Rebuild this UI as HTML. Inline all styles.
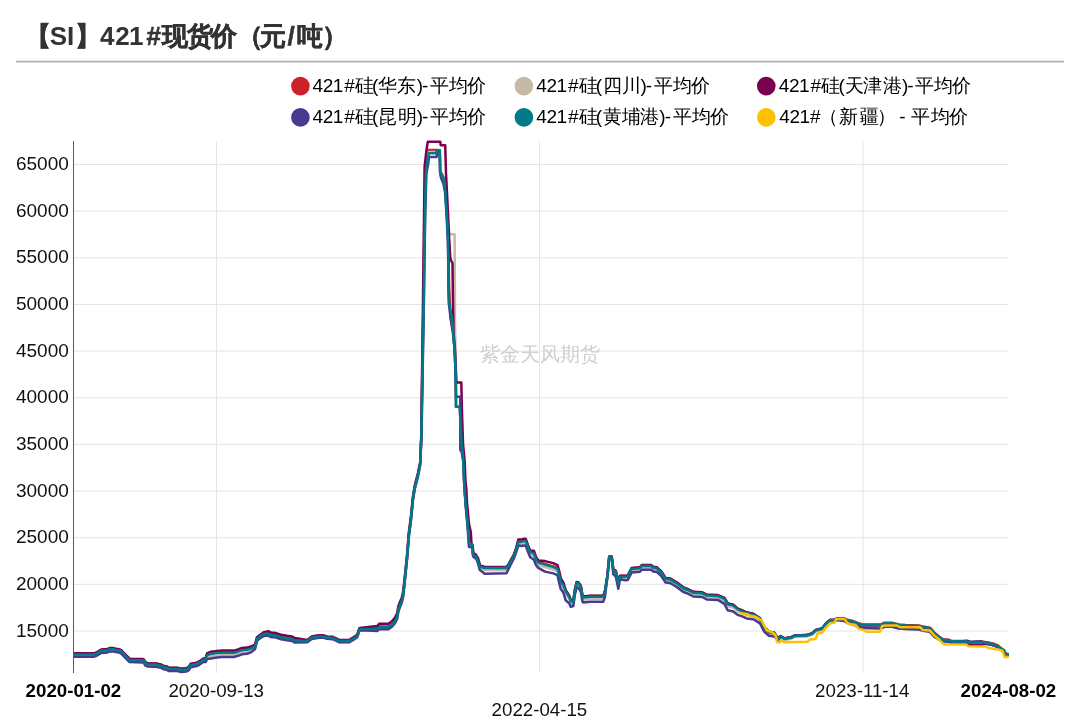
<!DOCTYPE html>
<html><head><meta charset="utf-8"><style>
html,body{margin:0;padding:0;background:#fff;width:1080px;height:720px;overflow:hidden}
svg{display:block;will-change:transform;font-family:"Liberation Sans",sans-serif}
</style></head><body>
<svg width="1080" height="720" viewBox="0 0 1080 720">
<defs><clipPath id="pc"><rect x="74" y="130" width="935" height="545"/></clipPath></defs>
<rect width="1080" height="720" fill="#fff"/>
<text x="25.40 49.75 67.05 74.55 100.00 115.20 128.95 146.50 161.70 186.85 211.15 236.75 260.25 287.40 297.40 322.00" y="45" font-size="26" font-weight="bold" fill="#333"><tspan stroke="#333" stroke-width="0.5">【</tspan>SI<tspan stroke="#333" stroke-width="0.5">】</tspan>421<tspan stroke="#333" stroke-width="0.5">#</tspan><tspan stroke="#333" stroke-width="0.5">现</tspan><tspan stroke="#333" stroke-width="0.5">货</tspan><tspan stroke="#333" stroke-width="0.5">价</tspan><tspan stroke="#333" stroke-width="0.5">（</tspan><tspan stroke="#333" stroke-width="0.5">元</tspan><tspan stroke="#333" stroke-width="0.5">/</tspan><tspan stroke="#333" stroke-width="0.5">吨</tspan><tspan stroke="#333" stroke-width="0.5">）</tspan></text>
<line x1="16" x2="1064" y1="61.7" y2="61.7" stroke="#b0b0b0" stroke-width="1.8"/>
<g font-size="19" fill="#000"><circle cx="300.4" cy="86.1" r="9.3" fill="#cc2128"/><text x="312.45 322.65 332.70 344.20 354.80 372.05 378.30 397.45 416.65 422.05 429.90 448.80 466.85" y="91.8">421#硅(华东)-平均价</text><circle cx="523.9" cy="86.1" r="9.3" fill="#c6b9a6"/><text x="536.25 546.45 556.50 568.00 578.60 595.85 602.60 621.75 640.45 645.85 653.70 672.60 690.65" y="91.8">421#硅(四川)-平均价</text><circle cx="766.3" cy="86.1" r="9.3" fill="#7a0050"/><text x="778.85 789.05 799.10 810.60 821.20 838.45 845.20 863.35 882.75 901.95 907.35 915.20 934.10 952.15" y="91.8">421#硅(天津港)-平均价</text><circle cx="300.4" cy="117.4" r="9.3" fill="#4a3990"/><text x="312.45 322.65 332.70 344.20 354.80 372.05 378.30 397.95 416.65 422.05 429.90 448.80 466.85" y="123.1">421#硅(昆明)-平均价</text><circle cx="523.9" cy="117.4" r="9.3" fill="#007a87"/><text x="536.25 546.45 556.50 568.00 578.60 595.85 602.60 621.75 640.15 659.35 664.75 672.60 691.50 709.55" y="123.1">421#硅(黄埔港)-平均价</text><circle cx="766.3" cy="117.4" r="9.3" fill="#ffc000"/><text x="779.20 789.40 799.45 810.00 819.35 838.65 859.50 876.95 899.25 911.35 930.80 948.85" y="123.1">421#（新疆）-平均价</text></g>
<g stroke="#e4e4e4" stroke-width="1"><line x1="74" x2="1008.5" y1="631.00" y2="631.00"/><line x1="74" x2="1008.5" y1="584.35" y2="584.35"/><line x1="74" x2="1008.5" y1="537.70" y2="537.70"/><line x1="74" x2="1008.5" y1="491.05" y2="491.05"/><line x1="74" x2="1008.5" y1="444.40" y2="444.40"/><line x1="74" x2="1008.5" y1="397.75" y2="397.75"/><line x1="74" x2="1008.5" y1="351.10" y2="351.10"/><line x1="74" x2="1008.5" y1="304.45" y2="304.45"/><line x1="74" x2="1008.5" y1="257.80" y2="257.80"/><line x1="74" x2="1008.5" y1="211.15" y2="211.15"/><line x1="74" x2="1008.5" y1="164.50" y2="164.50"/><line x1="216.5" x2="216.5" y1="141" y2="673"/><line x1="539.5" x2="539.5" y1="141" y2="673"/><line x1="863.0" x2="863.0" y1="141" y2="673"/></g>
<text x="540" y="360.8" font-size="20" fill="#cfcfcf" text-anchor="middle">紫金天风期货</text>
<line x1="73.5" x2="73.5" y1="141" y2="673" stroke="#5a5a5a" stroke-width="1"/>
<g font-size="19" fill="#111" text-anchor="end"><text x="68.8" y="636.6">15000</text><text x="68.8" y="589.9">20000</text><text x="68.8" y="543.3">25000</text><text x="68.8" y="496.7">30000</text><text x="68.8" y="450.0">35000</text><text x="68.8" y="403.4">40000</text><text x="68.8" y="356.7">45000</text><text x="68.8" y="310.1">50000</text><text x="68.8" y="263.4">55000</text><text x="68.8" y="216.8">60000</text><text x="68.8" y="170.1">65000</text></g>
<g font-size="18.7" fill="#111" text-anchor="middle">
<text x="73.4" y="697.4" font-weight="bold" fill="#000">2020-01-02</text>
<text x="216.2" y="697.4">2020-09-13</text>
<text x="539.4" y="715.5">2022-04-15</text>
<text x="862.2" y="697.4">2023-11-14</text>
<text x="1008.4" y="697.4" font-weight="bold" fill="#000">2024-08-02</text>
</g>
<g fill="none" stroke-width="2.5" stroke-linejoin="round" stroke-linecap="round" clip-path="url(#pc)">
<polyline stroke="#cc2128" points="73.5,653.7 94.1,653.7 97.1,652.5 101.3,650.0 107.3,649.4 109.8,648.5 113.4,648.5 115.8,649.1 118.8,649.4 121.2,650.6 124.2,653.7 127.8,657.3 129.6,659.1 143.3,659.4 145.6,662.7 147.8,663.6 155.9,663.8 161.1,664.9 164.1,666.4 167.0,666.8 168.5,667.9 177.4,668.1 181.1,669.0 186.3,668.6 188.5,667.5 190.7,664.2 196.7,663.1 199.6,661.6 203.3,659.0 205.6,658.6 207.0,654.6 211.0,653.1 217.0,652.3 222.0,652.0 234.0,652.0 238.0,650.9 242.0,649.4 247.0,649.0 251.0,647.9 255.0,645.9 257.0,638.1 261.0,634.8 264.0,633.1 268.0,632.8 271.0,634.2 276.0,634.8 281.0,636.4 287.0,637.5 292.0,638.1 295.0,639.8 307.2,640.4 311.7,637.1 317.2,636.0 322.8,635.7 327.2,636.9 332.8,637.3 337.2,639.3 339.4,640.4 349.4,640.4 353.9,637.6 357.2,635.4 359.4,628.7 361.7,628.2 377.2,628.2 379.4,626.5 388.3,626.5 391.7,624.3 395.0,620.4 397.2,616.0 398.3,609.3 399.4,606.0 401.7,600.4 403.0,595.1 404.6,581.0 407.0,557.3 408.9,533.8 410.8,519.6 412.9,498.3 414.8,486.5 417.9,474.7 420.2,462.9 420.7,451.1 421.2,439.3 423.5,300.0 424.1,251.0 424.8,206.7 425.8,173.3 427.0,160.0 428.5,149.9 436.2,149.9 436.7,149.9 439.8,150.3 440.5,171.7 442.0,174.2 443.8,178.3 445.5,190.0 446.6,206.7 447.6,223.3 448.3,240.0 448.7,260.0 449.0,283.3 449.8,303.3 450.3,316.7 453.3,333.3 454.7,350.0 455.5,370.0 455.8,385.0 456.2,406.7 459.7,406.7 460.8,426.7 461.7,443.3 463.3,460.0 464.2,482.0 465.6,502.9 467.7,523.8 469.2,543.6 471.7,544.1 473.1,555.2 475.0,556.0 476.1,555.6 477.6,558.9 479.8,566.3 482.8,566.7 484.3,567.4 506.5,567.4 508.7,564.5 510.9,560.4 513.9,555.2 516.1,549.3 518.3,541.2 521.3,541.2 524.3,540.4 525.7,540.4 528.0,546.3 530.2,551.5 533.9,553.0 536.1,558.9 538.3,561.9 545.0,563.9 553.3,566.4 557.5,568.1 559.2,574.3 560.8,581.0 563.3,584.3 565.8,591.0 569.2,596.0 570.8,600.6 573.3,601.0 575.0,589.3 576.7,582.2 578.3,582.6 580.8,586.0 582.5,596.0 583.3,596.8 590.0,596.0 603.3,596.0 605.0,591.0 607.5,575.1 609.2,556.8 611.7,556.8 613.3,569.3 615.8,571.0 618.3,582.6 620.0,576.0 625.0,576.0 627.8,575.7 631.7,568.2 640.0,567.6 641.7,565.4 651.1,565.4 653.3,567.1 656.7,567.6 661.1,571.5 665.6,578.2 670.0,578.7 676.7,582.6 683.3,587.6 687.8,589.3 693.3,592.1 702.2,592.6 706.7,594.9 717.8,595.4 724.4,598.2 727.8,603.7 733.3,604.9 737.8,608.7 742.2,610.4 746.7,612.6 753.3,613.7 760.0,618.2 764.4,627.1 768.9,631.5 774.4,632.7 777.8,638.3 780.6,636.1 784.4,638.3 791.1,637.2 794.4,635.5 806.7,635.0 812.2,633.3 815.6,630.0 822.2,628.3 826.7,622.7 830.0,620.0 834.4,619.4 836.7,618.3 844.4,618.3 847.8,620.0 853.3,621.1 858.9,623.3 862.2,624.4 881.1,624.4 884.4,622.7 892.2,622.7 898.9,624.4 905.6,625.0 918.9,625.5 923.3,626.6 930.0,627.7 934.4,632.7 938.7,636.3 943.1,639.2 948.3,639.6 951.3,640.7 966.9,641.1 970.6,642.2 980.9,641.6 986.9,642.2 992.8,643.5 998.0,645.5 1000.2,647.4 1003.9,650.0 1005.4,653.3 1008.0,654.0"/>
<polyline stroke="#c6b9a6" points="73.5,655.3 94.1,655.3 97.1,654.1 101.3,651.6 107.3,651.0 109.8,650.1 113.4,650.1 115.8,650.7 118.8,651.0 121.2,652.2 124.2,655.3 127.8,658.9 129.6,660.7 143.3,661.0 145.6,664.3 147.8,665.2 155.9,665.4 161.1,666.5 164.1,668.0 167.0,668.4 168.5,669.5 177.4,669.7 181.1,670.6 186.3,670.2 188.5,669.1 190.7,665.8 196.7,664.7 199.6,663.2 203.3,660.6 205.6,660.5 207.0,657.3 211.0,656.4 217.0,655.6 222.0,655.3 234.0,655.3 238.0,654.2 242.0,652.7 247.0,652.3 251.0,651.2 255.0,649.2 257.0,640.4 261.0,636.2 264.0,634.5 268.0,634.3 271.0,635.7 276.0,636.3 281.0,637.9 287.0,639.1 292.0,639.7 295.0,641.4 307.2,642.0 311.7,638.7 317.2,637.6 322.8,637.4 327.2,638.6 332.8,639.0 337.2,641.1 339.4,642.2 349.4,642.2 353.9,639.5 357.2,637.3 359.4,630.6 361.7,630.1 377.2,630.2 379.4,628.5 388.3,628.6 391.7,626.4 395.0,622.5 397.2,618.1 398.3,611.4 399.4,608.1 401.7,602.5 403.0,597.2 404.6,583.1 407.0,559.5 408.9,536.0 410.8,521.8 412.9,500.5 414.8,488.7 417.9,476.9 420.2,465.1 420.7,453.3 421.2,441.5 423.5,300.0 424.1,251.0 424.8,206.7 425.8,173.3 427.0,162.0 428.7,152.0 436.4,152.0 436.9,151.0 439.8,151.0 440.6,172.0 442.5,175.0 444.5,180.0 446.5,200.0 448.0,225.0 449.3,234.2 454.6,234.2 455.0,323.3 455.5,350.0 456.0,370.0 456.2,385.0 456.4,406.7 459.7,407.5 460.8,427.5 461.7,444.0 463.3,461.0 464.2,483.0 465.6,504.0 467.7,525.0 469.2,545.0 471.7,545.5 473.1,556.5 475.0,557.5 476.1,558.2 477.6,561.5 479.8,568.9 482.8,569.3 484.3,570.0 506.5,570.2 508.7,567.3 510.9,563.2 513.9,558.0 516.1,552.1 518.3,544.1 521.3,544.1 524.3,543.3 525.7,543.3 528.0,549.2 530.2,554.5 533.9,556.0 536.1,561.9 538.3,564.9 545.0,567.0 553.3,569.6 557.5,571.2 559.2,577.5 560.8,584.2 563.3,587.4 565.8,594.1 569.2,599.1 570.8,603.6 573.3,604.0 575.0,592.3 576.7,585.2 578.3,585.6 580.8,588.9 582.5,598.9 583.3,599.7 590.0,598.8 603.3,598.7 605.0,593.7 607.5,577.8 609.2,559.5 611.7,559.5 613.3,572.0 615.8,573.7 618.3,585.3 620.0,578.7 625.0,578.7 627.8,578.4 631.7,570.9 640.0,570.3 641.7,568.1 651.1,568.1 653.3,569.8 656.7,570.3 661.1,574.2 665.6,580.9 670.0,581.4 676.7,585.3 683.3,590.3 687.8,592.0 693.3,594.8 702.2,595.3 706.7,597.6 717.8,598.1 724.4,600.9 727.8,606.4 733.3,607.6 737.8,611.4 742.2,613.0 746.7,615.1 753.3,616.1 760.0,620.4 764.4,629.2 768.9,633.5 774.4,634.4 777.8,640.0 780.6,637.7 784.4,639.9 791.1,638.8 794.4,637.1 806.7,636.6 812.2,634.9 815.6,631.6 822.2,629.9 826.7,624.3 830.0,621.6 834.4,621.0 836.7,619.9 844.4,621.0 847.8,623.5 853.3,625.2 858.9,627.4 862.2,628.5 881.1,628.5 884.4,626.8 892.2,626.8 898.9,628.5 905.6,629.1 918.9,629.6 923.3,630.7 930.0,631.8 934.4,636.8 938.7,639.7 943.1,641.7 948.3,641.7 951.3,642.8 966.9,643.0 970.6,644.1 980.9,643.4 986.9,644.0 992.8,645.2 998.0,647.2 1000.2,649.1 1003.9,651.6 1005.4,654.9 1008.0,655.6"/>
<polyline stroke="#7a0050" points="73.5,653.3 94.1,653.3 97.1,652.1 101.3,649.6 107.3,649.0 109.8,648.1 113.4,648.1 115.8,648.7 118.8,649.0 121.2,650.2 124.2,653.3 127.8,656.9 129.6,658.7 143.3,659.0 145.6,662.3 147.8,663.2 155.9,663.4 161.1,664.5 164.1,666.0 167.0,666.4 168.5,667.5 177.4,667.7 181.1,668.6 186.3,668.2 188.5,667.1 190.7,663.8 196.7,662.7 199.6,661.2 203.3,658.6 205.6,658.0 207.0,653.5 211.0,651.7 217.0,650.9 222.0,650.6 234.0,650.6 238.0,649.5 242.0,648.0 247.0,647.6 251.0,646.5 255.0,644.5 257.0,637.2 261.0,634.2 264.0,632.1 268.0,631.1 271.0,632.5 276.0,633.1 281.0,634.7 287.0,635.8 292.0,636.4 295.0,638.1 307.2,639.9 311.7,636.6 317.2,635.5 322.8,635.2 327.2,636.4 332.8,636.8 337.2,638.8 339.4,639.9 349.4,639.9 353.9,637.1 357.2,634.9 359.4,628.2 361.7,627.7 377.2,626.0 379.4,623.7 388.3,623.7 391.7,621.5 395.0,617.6 397.2,613.2 398.3,606.5 399.4,603.3 401.7,597.9 403.0,592.8 404.6,578.8 407.0,555.3 408.9,532.0 410.8,518.0 412.9,496.9 414.8,485.2 417.9,473.7 420.2,462.1 420.7,450.3 421.2,438.5 423.0,300.0 423.6,250.0 424.2,200.0 424.6,166.7 426.5,150.0 427.8,141.8 440.3,141.8 440.7,145.2 445.2,145.2 446.0,173.3 447.7,206.7 449.3,240.0 450.2,256.7 450.8,260.0 452.5,263.3 453.0,305.0 453.6,333.3 455.0,350.0 455.8,370.0 456.5,382.5 461.3,382.5 462.0,412.8 463.0,443.5 464.6,460.0 465.5,482.0 466.3,488.3 467.0,503.0 469.0,524.0 470.8,532.0 471.5,544.0 472.5,545.0 473.5,553.0 476.0,555.0 478.0,558.0 480.0,565.0 476.1,554.9 477.6,558.3 479.8,565.7 482.8,566.2 484.3,566.9 506.5,566.9 508.7,563.9 510.9,559.8 513.9,554.5 516.1,548.5 518.3,539.6 521.3,539.6 524.3,538.8 525.7,538.8 528.0,545.1 530.2,550.6 533.9,550.7 536.1,557.1 538.3,560.5 545.0,561.1 553.3,563.1 557.5,565.1 559.2,571.1 560.8,578.3 563.3,582.5 565.8,590.1 569.2,595.6 570.8,600.2 573.3,600.7 575.0,589.0 576.7,581.9 578.3,582.3 580.8,585.7 582.5,595.7 583.3,596.5 590.0,595.7 603.3,595.7 605.0,590.7 607.5,574.8 609.2,556.5 611.7,556.5 613.3,569.0 615.8,570.7 618.3,582.3 620.0,575.7 625.0,575.7 627.8,575.4 631.7,567.9 640.0,567.3 641.7,565.1 651.1,565.1 653.3,566.8 656.7,567.3 661.1,571.2 665.6,577.9 670.0,578.4 676.7,582.3 683.3,587.3 687.8,589.0 693.3,591.8 702.2,592.3 706.7,594.6 717.8,595.1 724.4,598.0 727.8,603.5 733.3,604.8 737.8,608.6 742.2,610.4 746.7,612.6 753.3,613.8 760.0,618.4 764.4,627.3 768.9,631.7 774.4,632.8 777.8,638.4 780.6,636.2 784.4,638.4 791.1,637.3 794.4,635.6 806.7,635.1 812.2,633.4 815.6,630.1 822.2,628.4 826.7,622.8 830.0,620.1 834.4,619.9 836.7,619.1 844.4,619.4 847.8,621.1 853.3,622.2 858.9,624.4 862.2,625.5 881.1,625.5 884.4,623.8 892.2,623.8 898.9,625.5 905.6,626.1 918.9,626.6 923.3,627.7 930.0,628.8 934.4,633.8 938.7,637.4 943.1,640.3 948.3,640.7 951.3,641.8 966.9,644.2 970.6,645.3 980.9,644.7 986.9,643.8 992.8,645.1 998.0,647.1 1000.2,649.0 1003.9,651.6 1005.4,654.9 1008.0,655.6"/>
<polyline stroke="#4a3990" points="73.5,656.7 94.1,656.7 97.1,655.5 101.3,653.0 107.3,652.4 109.8,651.5 113.4,651.5 115.8,652.1 118.8,652.4 121.2,653.6 124.2,656.7 127.8,660.3 129.6,662.1 143.3,662.4 145.6,665.7 147.8,666.6 155.9,666.8 161.1,667.9 164.1,669.4 167.0,669.8 168.5,670.9 177.4,671.1 181.1,672.0 186.3,671.6 188.5,670.5 190.7,667.2 196.7,666.1 199.6,664.6 203.3,662.0 205.6,662.1 207.0,659.1 211.0,658.4 217.0,657.5 222.0,657.1 234.0,657.0 238.0,655.8 242.0,654.3 247.0,653.8 251.0,652.4 255.0,649.0 257.0,640.9 261.0,637.6 264.0,635.9 268.0,635.6 271.0,637.0 276.0,637.6 281.0,639.2 287.0,640.3 292.0,640.9 295.0,642.6 307.2,642.3 311.7,639.0 317.2,637.9 322.8,637.6 327.2,638.8 332.8,639.2 337.2,641.2 339.4,642.3 349.4,642.3 353.9,639.5 357.2,637.3 359.4,630.6 361.7,630.2 377.2,630.9 379.4,629.2 388.3,629.2 391.7,627.0 395.0,623.1 397.2,618.6 398.3,611.9 399.4,608.6 401.7,602.9 403.0,597.5 404.6,583.4 407.0,559.6 408.9,536.1 410.8,521.8 412.9,500.4 414.8,488.6 417.9,476.7 420.2,464.8 420.7,453.0 421.2,441.2 421.5,440.0 423.9,300.0 424.6,251.0 425.4,206.7 426.4,173.3 428.0,165.0 429.0,157.1 436.6,157.1 437.2,152.0 439.5,152.0 440.0,172.0 441.0,177.8 443.3,183.3 445.0,192.0 446.0,206.7 447.0,223.3 447.8,240.0 448.2,260.0 448.3,283.3 448.8,303.3 450.5,316.7 453.0,333.3 454.6,350.0 455.5,370.0 455.8,385.0 456.0,396.7 460.3,396.7 460.3,450.0 461.7,452.0 463.3,462.0 464.2,484.0 465.6,505.0 467.5,526.0 469.0,547.0 470.5,547.0 472.3,548.0 473.3,556.5 475.0,558.0 476.1,558.3 477.6,562.0 479.8,570.0 482.8,572.2 484.3,573.7 506.5,573.3 508.7,568.7 510.9,564.1 513.9,558.4 516.1,552.3 518.3,545.6 521.3,545.9 524.3,545.4 525.7,545.6 528.0,551.8 530.2,557.2 533.9,559.7 536.1,565.2 538.3,567.9 545.0,571.6 553.3,573.4 557.5,575.2 559.2,582.9 560.8,589.1 563.3,592.6 565.8,600.6 569.2,603.3 570.8,606.9 573.3,606.1 575.0,594.1 576.7,587.2 578.3,587.8 580.8,591.6 582.5,601.7 583.3,602.5 590.0,601.7 603.3,601.7 605.0,596.7 607.5,575.8 609.2,557.5 611.7,558.9 613.3,574.1 615.8,576.6 618.3,588.8 620.0,579.2 625.0,580.2 627.8,579.9 631.7,572.4 640.0,571.8 641.7,569.7 651.1,569.7 653.3,571.4 656.7,571.9 661.1,575.8 665.6,582.5 670.0,583.0 676.7,587.0 683.3,592.0 687.8,593.7 693.3,596.5 702.2,597.0 706.7,599.4 717.8,599.9 724.4,603.9 727.8,610.3 733.3,611.4 737.8,614.9 742.2,616.4 746.7,618.4 753.3,619.2 760.0,623.4 764.4,631.9 768.9,635.8 774.4,636.4 777.8,640.5 780.6,636.9 784.4,638.4 791.1,637.3 794.4,635.6 806.7,635.1 812.2,633.4 815.6,630.1 822.2,628.4 826.7,622.8 830.0,620.1 834.4,620.6 836.7,620.1 844.4,621.1 847.8,622.9 853.3,624.2 858.9,626.6 862.2,627.8 881.1,628.5 884.4,626.8 892.2,626.8 898.9,628.5 905.6,629.1 918.9,629.6 923.3,630.7 930.0,631.8 934.4,636.8 938.7,638.9 943.1,641.3 948.3,641.7 951.3,642.8 966.9,640.7 970.6,641.8 980.9,641.2 986.9,643.8 992.8,645.1 998.0,647.1 1000.2,649.0 1003.9,651.6 1005.4,654.9 1008.0,655.6"/>
<polyline stroke="#007a87" points="73.5,654.5 94.1,654.5 97.1,653.3 101.3,650.8 107.3,650.2 109.8,649.3 113.4,649.3 115.8,649.9 118.8,650.2 121.2,651.4 124.2,654.5 127.8,658.1 129.6,659.9 143.3,660.2 145.6,663.5 147.8,664.4 155.9,664.6 161.1,665.7 164.1,667.2 167.0,667.6 168.5,668.7 177.4,668.9 181.1,669.8 186.3,669.4 188.5,668.3 190.7,665.0 196.7,663.9 199.6,662.4 203.3,659.8 205.6,659.4 207.0,655.4 211.0,653.9 217.0,653.1 222.0,652.8 234.0,652.8 238.0,651.7 242.0,650.2 247.0,649.8 251.0,648.7 255.0,646.7 257.0,638.9 261.0,635.6 264.0,633.9 268.0,633.6 271.0,635.0 276.0,635.6 281.0,637.2 287.0,638.3 292.0,638.9 295.0,640.6 307.2,641.1 311.7,637.8 317.2,636.7 322.8,636.4 327.2,637.6 332.8,638.0 337.2,640.0 339.4,641.1 349.4,641.1 353.9,638.3 357.2,636.1 359.4,629.4 361.7,628.9 377.2,628.9 379.4,627.2 388.3,627.2 391.7,625.0 395.0,621.1 397.2,616.7 398.3,610.0 399.4,606.7 401.7,601.1 403.0,595.8 404.6,581.7 407.0,558.0 408.9,534.5 410.8,520.3 412.9,499.0 414.8,487.2 417.9,475.4 420.2,463.6 420.7,451.8 421.2,440.0 423.8,300.0 424.4,251.0 425.1,206.7 426.0,173.3 427.3,162.2 428.9,153.2 436.2,153.2 436.7,150.3 439.8,150.3 440.2,171.7 441.8,174.2 443.5,178.3 445.2,190.0 446.3,206.7 447.3,223.3 448.0,240.0 448.4,260.0 448.5,283.3 449.2,303.3 451.7,316.7 453.3,333.3 454.7,350.0 455.5,370.0 455.8,385.0 455.8,406.7 459.7,406.7 460.8,426.7 461.7,443.3 463.3,460.0 464.2,482.0 465.6,502.9 467.7,523.8 469.1,543.3 471.7,544.1 473.1,555.2 476.1,556.3 477.6,559.6 479.8,567.0 482.8,567.4 484.3,568.1 506.5,568.1 508.7,565.2 510.9,561.1 513.9,555.9 516.1,550.0 518.3,541.9 521.3,541.9 524.3,541.1 525.7,541.1 528.0,547.0 530.2,552.2 533.9,553.7 536.1,559.6 538.3,562.6 545.0,564.6 553.3,567.1 557.5,568.8 559.2,575.0 560.8,581.7 563.3,585.0 565.8,591.7 569.2,596.7 570.8,601.2 573.3,601.7 575.0,590.0 576.7,582.9 578.3,583.3 580.8,586.7 582.5,596.7 583.3,597.5 590.0,596.7 603.3,596.7 605.0,591.7 607.5,575.8 609.2,557.5 611.7,557.5 613.3,570.0 615.8,571.7 618.3,583.3 620.0,576.7 625.0,576.7 627.8,576.4 631.7,568.9 640.0,568.3 641.7,566.1 651.1,566.1 653.3,567.8 656.7,568.3 661.1,572.2 665.6,578.9 670.0,579.4 676.7,583.3 683.3,588.3 687.8,590.0 693.3,592.8 702.2,593.3 706.7,595.6 717.8,596.1 724.4,598.9 727.8,604.4 733.3,605.6 737.8,609.4 742.2,611.1 746.7,613.3 753.3,614.4 760.0,618.9 764.4,627.8 768.9,632.2 774.4,633.3 777.8,638.9 780.6,636.7 784.4,638.9 791.1,637.8 794.4,636.1 806.7,635.6 812.2,633.9 815.6,630.6 822.2,628.9 826.7,623.3 830.0,620.6 834.4,620.0 836.7,618.9 844.4,618.9 847.8,620.6 853.3,621.7 858.9,623.9 862.2,625.0 881.1,625.0 884.4,623.3 892.2,623.3 898.9,625.0 905.6,625.6 918.9,626.1 923.3,627.2 930.0,628.3 934.4,633.3 938.7,636.9 943.1,639.8 948.3,640.2 951.3,641.3 966.9,641.7 970.6,642.8 980.9,642.2 986.9,642.8 992.8,644.1 998.0,646.1 1000.2,648.0 1003.9,650.6 1005.4,653.9 1008.0,654.6"/>
<polyline stroke="#ffc000" points="740.6,613.3 746.7,613.9 751.1,616.1 755.6,616.7 761.1,620.0 766.7,630.0 773.3,632.8 775.6,635.6 777.2,642.2 780.0,642.2 781.1,640.0 784.4,642.2 807.8,641.7 810.0,639.4 815.6,638.9 817.8,633.3 822.2,632.8 825.6,627.8 830.0,623.3 834.4,622.8 836.1,618.9 844.4,618.9 847.2,622.8 850.0,623.9 855.6,625.0 858.9,628.9 863.3,630.0 866.7,631.7 880.0,631.7 882.2,626.1 885.6,625.6 896.7,625.6 900.0,627.2 920.0,627.2 922.8,630.0 930.0,630.6 934.4,635.6 939.4,639.8 943.9,644.3 966.1,644.4 968.3,646.3 986.1,646.5 988.3,648.0 998.0,649.4 1002.4,650.6 1004.6,656.9 1006.1,656.9 1008.0,657.0"/>
</g>
</svg>
</body></html>
